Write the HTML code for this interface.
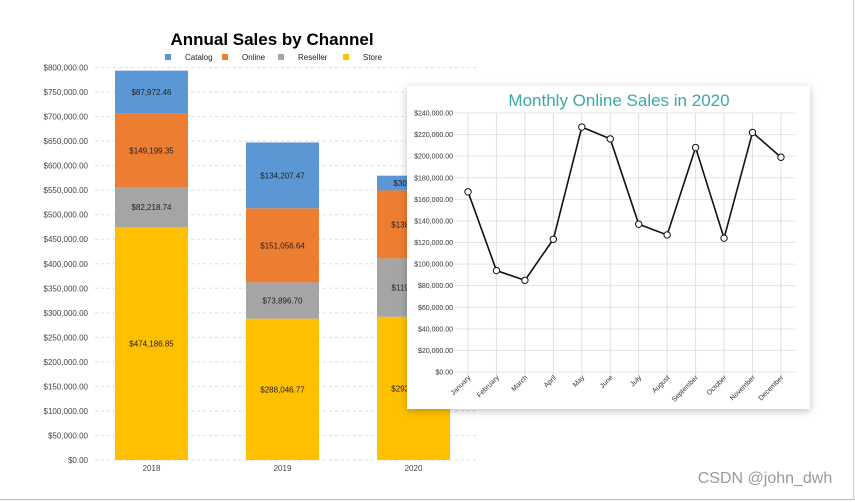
<!DOCTYPE html>
<html><head><meta charset="utf-8"><style>
body{margin:0;background:#fff;width:855px;height:502px;overflow:hidden;font-family:"Liberation Sans",sans-serif}
</style></head><body>
<svg width="855" height="502" style="position:absolute;left:0;top:0">
<line x1="0" y1="499.5" x2="855" y2="499.5" stroke="#bbb"/>
<line x1="853.5" y1="0" x2="853.5" y2="500" stroke="#ccc"/>
<g id="left"></g>
<defs><filter id="sh" x="-10%" y="-10%" width="120%" height="120%"><feDropShadow dx="0" dy="2" stdDeviation="4" flood-color="#000" flood-opacity="0.25"/></filter></defs>
<rect x="407" y="86" width="403" height="323" fill="#fff" filter="url(#sh)"/>
<g id="right"></g>
<text x="765" y="483" font-size="16" fill="#999" text-anchor="middle">CSDN @john_dwh</text>
</svg>
<script>
const years=["2018","2019","2020"];
const store=[474186.85,288046.77,292000];
const reseller=[82218.74,73896.70,119000];
const online=[149199.35,151056.64,138500];
const catalog=[87972.46,134207.47,30000];
const yTicksL=[0,50000,100000,150000,200000,250000,300000,350000,400000,450000,500000,550000,600000,650000,700000,750000,800000];
const months=["January","February","March","April","May","June","July","August","September","October","November","December"];
const monthly=[167000,94000,85000,123000,227000,216000,137000,127000,208000,124000,222000,199000];
const yTicksR=[0,20000,40000,60000,80000,100000,120000,140000,160000,180000,200000,220000,240000];
const NS="http://www.w3.org/2000/svg";
function mk(p,t,a,txt){const e=document.createElementNS(NS,t);for(const k in a)e.setAttribute(k,a[k]);if(txt!==undefined)e.textContent=txt;p.appendChild(e);return e;}
function fmt(v){return "$"+v.toLocaleString("en-US",{minimumFractionDigits:2,maximumFractionDigits:2});}
const L=document.getElementById("left");
const yL=v=>460-v*392.5/800000;
const xL=i=>115+i*131;
let t=mk(L,"text",{x:272,y:45,"font-size":17,"font-weight":"bold","text-anchor":"middle",fill:"#000"},"Annual Sales by Channel");

const series=[["Catalog","#5b97d5",catalog],["Online","#ed7d31",online],["Reseller","#a5a5a5",reseller],["Store","#ffc000",store]];
const lx=[165,222,278,343];
series.forEach((s,i)=>{const g=mk(L,"g",{});

mk(g,"rect",{x:lx[i],y:54,width:6,height:6,fill:s[1]});
mk(g,"text",{x:lx[i]+20,y:60,"font-size":8,fill:"#222"},s[0]);});
yTicksL.forEach(v=>{const y=yL(v);
const l=mk(L,"line",{x1:95,x2:478,y1:y,y2:y,stroke:"#ddd","stroke-dasharray":"3,3"});

const tx=mk(L,"text",{x:88,y:y+3,"font-size":8,fill:"#444","text-anchor":"end"},fmt(v));
});
const stackOrder=[[store,"#ffc000","store"],[reseller,"#a5a5a5","reseller"],[online,"#ed7d31","online"],[catalog,"#5b97d5","catalog"]];
years.forEach((yr,i)=>{let base=0;
stackOrder.forEach(s=>{const v=s[0][i];const y0=yL(base),y1=yL(base+v);
const r=mk(L,"rect",{x:xL(i),y:y1,width:73,height:y0-y1,fill:s[1]});

const lb=mk(L,"text",{x:xL(i)+36.5,y:(y0+y1)/2+3,"font-size":8,fill:"#222","text-anchor":"middle"},fmt(v));

base+=v;});
const xl=mk(L,"text",{x:xL(i)+36.5,y:471,"font-size":8,fill:"#444","text-anchor":"middle"},yr);
});
const R=document.getElementById("right");
const yR=v=>372-v*259/240000;
const xR=i=>468+i*28.45;
t=mk(R,"text",{x:619,y:106,"font-size":17,fill:"#3aa8a4","text-anchor":"middle"},"Monthly Online Sales in 2020");

yTicksR.forEach(v=>{const y=yR(v);
const l=mk(R,"line",{x1:455,x2:795,y1:y,y2:y,stroke:"#e3e3e3"});

const tx=mk(R,"text",{x:453,y:y+2.5,"font-size":7,fill:"#333","text-anchor":"end"},fmt(v));
});
months.forEach((m,i)=>{const x=xR(i);
const l=mk(R,"line",{x1:x,x2:x,y1:yR(240000),y2:yR(0)+4,stroke:"#e0e0e0"});

const tx=mk(R,"text",{x:x+3,y:378,"font-size":7,fill:"#333","text-anchor":"end",transform:`rotate(-45 ${x+3} 378)`},m);
});
const pl=mk(R,"polyline",{points:monthly.map((v,i)=>xR(i)+","+yR(v)).join(" "),fill:"none",stroke:"#111","stroke-width":1.6});

monthly.forEach((v,i)=>{const c=mk(R,"circle",{cx:xR(i),cy:yR(v),r:3.2,fill:"#fff",stroke:"#111","stroke-width":1});
});
</script>
</body></html>
